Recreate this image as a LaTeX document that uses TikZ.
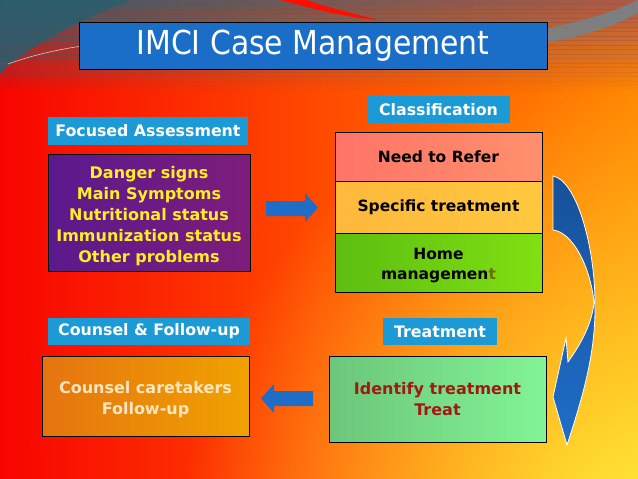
\documentclass[tikz,border=0pt]{standalone}
\usepackage{fontspec}
\setmainfont{DejaVu Sans}
\usetikzlibrary{fadings}
\definecolor{bgA}{HTML}{B00000}
\definecolor{bgB}{HTML}{F80400}
\definecolor{bgC}{HTML}{FF4A00}
\definecolor{bgD}{HTML}{FF8400}
\definecolor{bgE}{HTML}{FFA418}
\definecolor{bgY}{HTML}{FFF03A}
\definecolor{topL}{HTML}{2A5E6E}
\definecolor{topM}{HTML}{6E3852}
\definecolor{topR}{HTML}{A8564A}
\definecolor{swoosh}{HTML}{6A8A98}
\definecolor{titleblue}{HTML}{1A6EC8}
\definecolor{labelblue}{HTML}{1B9AD6}
\definecolor{purpleL}{HTML}{5A1A8C}
\definecolor{purpleR}{HTML}{7E1C7C}
\definecolor{referL}{HTML}{FF7468}
\definecolor{referR}{HTML}{FF906C}
\definecolor{specL}{HTML}{FFB83C}
\definecolor{specR}{HTML}{FFC83E}
\definecolor{homeL}{HTML}{5CBE10}
\definecolor{homeR}{HTML}{80E012}
\definecolor{treatL}{HTML}{6CC67A}
\definecolor{treatR}{HTML}{82F496}
\definecolor{counselL}{HTML}{E67410}
\definecolor{counselR}{HTML}{F0A200}
\definecolor{arrowblue}{HTML}{1E6EC8}
\definecolor{arrowtop}{HTML}{17519A}
\definecolor{yellowtext}{HTML}{FFEE22}
\definecolor{creamtext}{HTML}{FBE6C2}
\definecolor{treattext}{HTML}{A01A10}
\definecolor{olivetext}{HTML}{707000}
\pgfdeclarehorizontalshading{bgh}{100bp}{color(0bp)=(bgA); color(25bp)=(bgB); color(50bp)=(bgC); color(75bp)=(bgD); color(100bp)=(bgE)}
\tikzfading[name=fadeout, inner color=transparent!0, outer color=transparent!100]
\tikzset{
  box/.style={draw=black, line width=0.9pt, inner sep=0pt, outer sep=0pt, align=center},
  lbl/.style={fill=labelblue, inner sep=0pt, outer sep=0pt, text=white, font=\fontsize{15.8}{18}\selectfont\bfseries},
  body/.style={font=\fontsize{16}{21}\selectfont\bfseries, align=center, inner sep=0pt},
  blockarrow/.style={fill=arrowblue}
}
\begin{document}
\begin{tikzpicture}[x=1pt,y=-1pt]
\useasboundingbox (0,0) rectangle (638,479);
% ---------- background ----------
\begin{scope}
\clip (0,0) rectangle (638,479);
\shade[shading=bgh] (0,0) rectangle (638,479);
\fill[bgY, path fading=fadeout, fit fading=true] (650,540) circle[radius=470];
\foreach \i [evaluate=\i as \op using {0.9*(1-\i/20)}] in {0,...,19}
  \shade[left color=topL, middle color=topM, right color=topR, opacity=\op] (0,\i*4.5) rectangle (638,\i*4.5+4.6);
\fill[topL, opacity=0.85] (0,0) -- (130,0) .. controls (70,25) and (25,48) .. (0,74) -- cycle;
\draw[white, opacity=0.7, line width=0.6pt] (8,64) .. controls (30,56) and (55,50) .. (82,46);
\fill[red!90!orange] (280,0) -- (306,0) .. controls (330,8) and (355,14) .. (378,20) .. controls (350,18) and (318,10) .. (280,0) -- cycle;
\fill[swoosh, opacity=0.75] (548,28) .. controls (590,20) and (620,9) .. (638,0) -- (638,13) .. controls (615,25) and (590,35) .. (548,42) -- cycle;
\end{scope}
% ---------- title ----------
\node[box, fill=titleblue, minimum width=468pt, minimum height=47pt, text=white] (title) at (313,45.5)
  {\scalebox{0.905}[1]{\fontsize{33}{36}\selectfont IMCI Case Management}};
% ---------- labels ----------
\node[lbl, minimum width=200pt, minimum height=28pt] (fa) at (148,131) {Focused Assessment};
\node[lbl, minimum width=143pt, minimum height=27pt] (cls) at (438.5,109.5) {Classification};
\node[lbl, minimum width=202pt, minimum height=27pt] (cf) at (149,331.5) {Counsel \& Follow-up};
\node[lbl, minimum width=114pt, minimum height=27pt] (trl) at (440,331.5) {Treatment};
% ---------- boxes ----------
\node[box, left color=purpleL, right color=purpleR, minimum width=202pt, minimum height=117pt] (assess) at (149,212.5) {};
\node[body, text=yellowtext] (assesstext) at ([yshift=-3.5pt]assess.center)
  {Danger signs\\Main Symptoms\\Nutritional status\\Immunization status\\Other problems};
\node[box, left color=referL, right color=referR, minimum width=207pt, minimum height=49pt, font=\fontsize{15.5}{20}\selectfont\bfseries] (refer) at (438.5,156.5) {Need to Refer};
\node[box, left color=specL, right color=specR, minimum width=207pt, minimum height=52pt, font=\fontsize{15.5}{20}\selectfont\bfseries] (spec) at (438.5,207) {Specific treatment};
\node[box, left color=homeL, right color=homeR, minimum width=207pt, minimum height=59pt] (home) at (438.5,262.5) {};
\node[body, font=\fontsize{15.5}{20}\selectfont\bfseries] (hometext) at ([yshift=-3pt]home.center) {Home\\managemen\textcolor{olivetext}{t}};
\node[box, left color=counselL, right color=counselR, minimum width=207pt, minimum height=80pt] (counsel) at (145.5,396) {};
\node[body, text=creamtext] (counseltext) at ([yshift=-4pt]counsel.center) {Counsel caretakers\\Follow-up};
\node[box, body, left color=treatL, right color=treatR, text=treattext, minimum width=217pt, minimum height=86pt] (treat) at (437.5,399) {Identify treatment\\Treat};
% ---------- block arrows ----------
\fill[blockarrow] (266,201) -- (305,201) -- (305,193) -- (318,207.5) -- (305,222) -- (305,216) -- (266,216) -- cycle;
\fill[blockarrow] (313,391) -- (274,391) -- (274,384) -- (261,398.5) -- (274,413) -- (274,406) -- (313,406) -- cycle;
% ---------- curved arrow ----------
\shade[top color=arrowtop, bottom color=arrowblue, draw=white, line width=0.8pt]
  (553,176) .. controls (575,180) and (594,240) .. (595,300)
  .. controls (596,350) and (585,390) .. (567,445)
  -- (553,397) -- (566,338) -- (568,362)
  .. controls (580,345) and (592,325) .. (594,302)
  .. controls (590,265) and (572,232) .. (553,230) -- cycle;
\end{tikzpicture}
\end{document}
